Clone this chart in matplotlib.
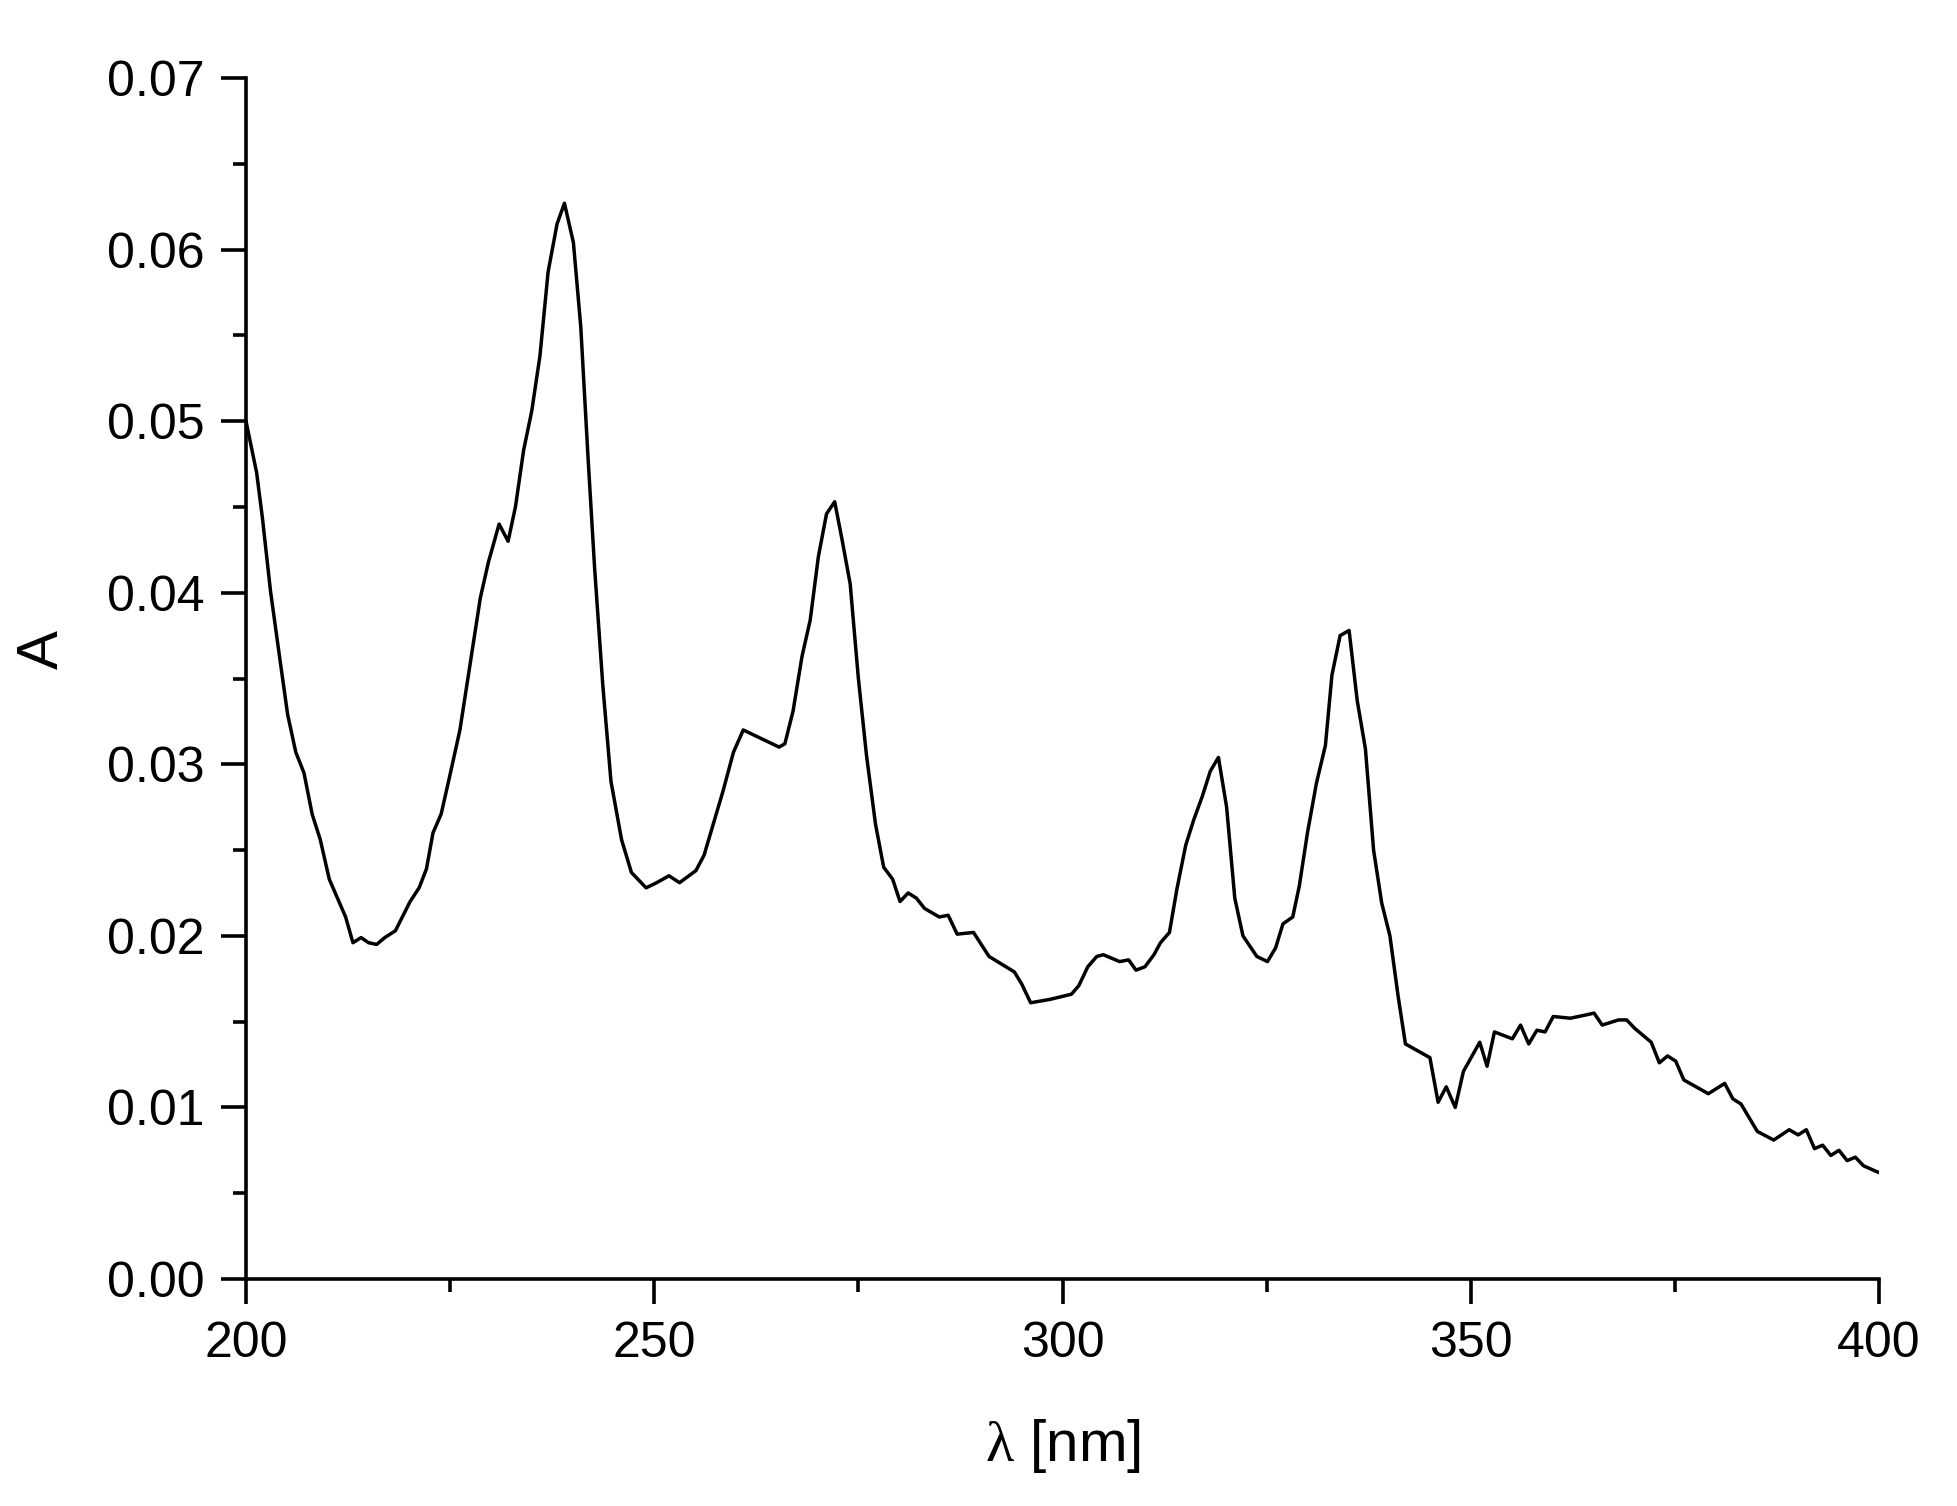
import matplotlib
matplotlib.use("Agg")
import matplotlib.pyplot as plt
from matplotlib.ticker import MultipleLocator

wavelength = [
    200, 201.3, 202, 203, 204.1, 205.1, 206.1, 207.1, 208.1, 209.1, 210.2, 211.2, 212.2,
    213.1, 214.1, 215, 216, 217, 218.3, 220.1, 221.2, 222.1, 222.9, 223.9, 224.9, 226.2,
    227.4, 228.7, 229.7, 231, 232.1, 233, 234, 235, 236, 237, 238.1, 239, 240.1, 241,
    241.9, 242.7, 243.7, 244.7, 246, 247.2, 249, 250.3, 251.8, 253.1, 255.1, 256.1, 257.1,
    258.4, 259.7, 260.9, 265.3, 266, 267, 268.1, 269.1, 270.1, 271.1, 272.1, 273, 274,
    275, 276, 277.1, 278.1, 279.2, 280.1, 281.1, 282.1, 283.1, 284.9, 286, 287.1, 289.1,
    291, 294.1, 295, 296.1, 298.5, 301.1, 302, 303.1, 304.2, 305, 307, 308.1, 309, 310.1,
    311.2, 312, 313.1, 314, 315.1, 316.1, 317.1, 318.1, 319.1, 320.1, 321.1, 322.1, 323.8,
    325.1, 326.1, 327, 328.2, 329, 330, 331.1, 332.2, 333, 334, 335.1, 336.1, 337.1, 338.1,
    339.1, 340.1, 341.1, 342, 345, 346, 347, 348.1, 349.1, 351.1, 352, 352.9, 355.1, 356.1,
    357.1, 358.1, 359.1, 360.1, 362.2, 364.2, 365.1, 366.1, 368.1, 369.1, 370.1, 372.1,
    373.1, 374.1, 375.1, 376.1, 379.1, 381.1, 382.1, 383.1, 385.1, 387.1, 389, 390.1,
    391.1, 392.1, 393.1, 394.1, 395.1, 396.1, 397.1, 398.1, 400,
]
absorbance = [
    0.0500, 0.0470, 0.0444, 0.0401, 0.0363, 0.0329, 0.0307, 0.0295, 0.0271, 0.0256, 0.0233,
    0.0222, 0.0211, 0.0196, 0.0199, 0.0196, 0.0195, 0.0199, 0.0203, 0.0220, 0.0228, 0.0239,
    0.0260, 0.0271, 0.0292, 0.0320, 0.0357, 0.0397, 0.0418, 0.0440, 0.0430, 0.0450, 0.0483,
    0.0506, 0.0538, 0.0587, 0.0615, 0.0627, 0.0604, 0.0555, 0.0478, 0.0414, 0.0346, 0.0290,
    0.0256, 0.0237, 0.0228, 0.0231, 0.0235, 0.0231, 0.0238, 0.0247, 0.0263, 0.0284, 0.0307,
    0.0320, 0.0310, 0.0312, 0.0331, 0.0363, 0.0384, 0.0421, 0.0446, 0.0453, 0.0431, 0.0405,
    0.0350, 0.0305, 0.0265, 0.0240, 0.0233, 0.0220, 0.0225, 0.0222, 0.0216, 0.0211, 0.0212,
    0.0201, 0.0202, 0.0188, 0.0179, 0.0172, 0.0161, 0.0163, 0.0166, 0.0171, 0.0182, 0.0188,
    0.0189, 0.0185, 0.0186, 0.0180, 0.0182, 0.0189, 0.0196, 0.0202, 0.0227, 0.0253, 0.0268,
    0.0281, 0.0296, 0.0304, 0.0275, 0.0222, 0.0200, 0.0188, 0.0185, 0.0193, 0.0207, 0.0211,
    0.0229, 0.0260, 0.0289, 0.0311, 0.0352, 0.0375, 0.0378, 0.0337, 0.0309, 0.0250, 0.0219,
    0.0200, 0.0165, 0.0137, 0.0129, 0.0103, 0.0112, 0.0100, 0.0121, 0.0138, 0.0124, 0.0144,
    0.0140, 0.0148, 0.0137, 0.0145, 0.0144, 0.0153, 0.0152, 0.0154, 0.0155, 0.0148, 0.0151,
    0.0151, 0.0146, 0.0138, 0.0126, 0.0130, 0.0127, 0.0116, 0.0108, 0.0114, 0.0105, 0.0102,
    0.0086, 0.0081, 0.0087, 0.0084, 0.0087, 0.0076, 0.0078, 0.0072, 0.0075, 0.0069, 0.0071,
    0.0066, 0.0062,
]

x_ticks = [200, 250, 300, 350, 400]
x_tick_labels = ["200", "250", "300", "350", "400"]
y_ticks = [0.00, 0.01, 0.02, 0.03, 0.04, 0.05, 0.06, 0.07]
y_tick_labels = ["0.00", "0.01", "0.02", "0.03", "0.04", "0.05", "0.06", "0.07"]

plt.rcParams["font.family"] = ["Liberation Sans", "DejaVu Sans"]
plt.rcParams["mathtext.fontset"] = "custom"
plt.rcParams["mathtext.rm"] = "Liberation Serif"
plt.rcParams["mathtext.it"] = "Liberation Serif"

fig = plt.figure(figsize=(19.57, 15.06), dpi=100)
ax = fig.add_axes([246 / 1957, 1 - 1279 / 1506, (1879 - 246) / 1957, (1279 - 78) / 1506])

ax.plot(wavelength, absorbance, color="black", linewidth=2.5,
        solid_joinstyle="round", solid_capstyle="round")

ax.set_xlim(200, 400)
ax.set_ylim(0, 0.07)
ax.set_xticks(x_ticks)
ax.set_xticklabels(x_tick_labels)
ax.set_yticks(y_ticks)
ax.set_yticklabels(y_tick_labels)
ax.xaxis.set_minor_locator(MultipleLocator(25))
ax.yaxis.set_minor_locator(MultipleLocator(0.005))

for side in ("top", "right"):
    ax.spines[side].set_visible(False)
for side in ("left", "bottom"):
    ax.spines[side].set_linewidth(2.6)

ax.tick_params(which="major", direction="out", length=18, width=2.6, labelsize=36, pad=12)
ax.tick_params(which="minor", direction="out", length=9.5, width=2.6)

ax.set_xlabel(r"$\mathrm{\lambda}$ [nm]", fontsize=42, va="center")
ax.xaxis.set_label_coords(0.5, (1279 - 1446) / 1201)
ax.set_ylabel("A", fontsize=42, va="center")
ax.yaxis.set_label_coords((43 - 246) / 1633, (1279 - 650) / 1201)

fig.savefig("out.png", dpi=100, facecolor="white")
